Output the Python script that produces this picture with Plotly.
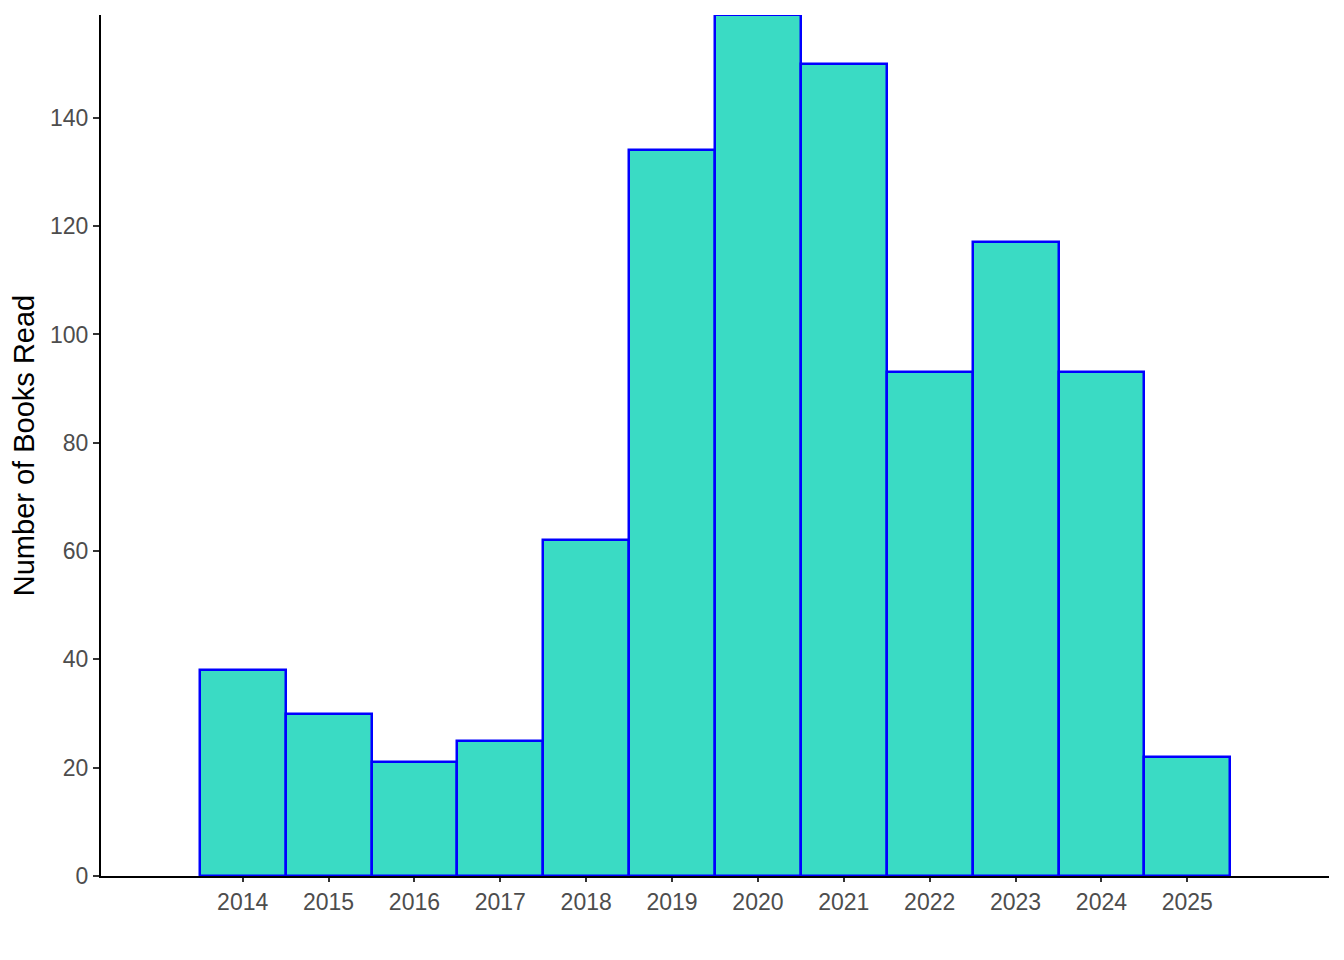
import plotly.graph_objects as go

# Books read per year
years = [2014, 2015, 2016, 2017, 2018, 2019, 2020, 2021, 2022, 2023, 2024, 2025]
books = [38, 30, 21, 25, 62, 134, 159, 150, 93, 117, 93, 22]

y_ticks = [0, 20, 40, 60, 80, 100, 120, 140]

fig = go.Figure()

fig.add_trace(
    go.Bar(
        x=years,
        y=books,
        width=1,
        marker=dict(color='#3ADBC4', line=dict(color='#0000FF', width=2.5)),
        showlegend=False
    )
)

# page body adds 8px offset, so size the figure to fit the window
fig.update_layout(
    width=1328,
    height=944,
    paper_bgcolor='white',
    plot_bgcolor='white',
    margin=dict(l=93, r=7, t=7, b=76),
    font=dict(family='Liberation Sans, Arial, sans-serif'),
    bargap=0
)

fig.update_xaxes(
    range=[2012.35, 2026.65],
    tickvals=years,
    ticktext=[str(y) for y in years],
    showgrid=False,
    zeroline=False,
    showline=True,
    linecolor='black',
    linewidth=2,
    ticks='outside',
    ticklen=4,
    tickwidth=2,
    tickcolor='#333333',
    tickfont=dict(size=23, color='#4D4D4D')
)

fig.update_yaxes(
    range=[0, 159],
    tickvals=y_ticks,
    showgrid=False,
    zeroline=False,
    showline=True,
    linecolor='black',
    linewidth=2,
    ticks='outside',
    ticklen=6,
    tickwidth=2,
    tickcolor='#333333',
    tickfont=dict(size=23, color='#4D4D4D'),
    title=dict(text='Number of Books Read', font=dict(size=29, color='black'), standoff=7)
)

fig.write_html("out.html")
